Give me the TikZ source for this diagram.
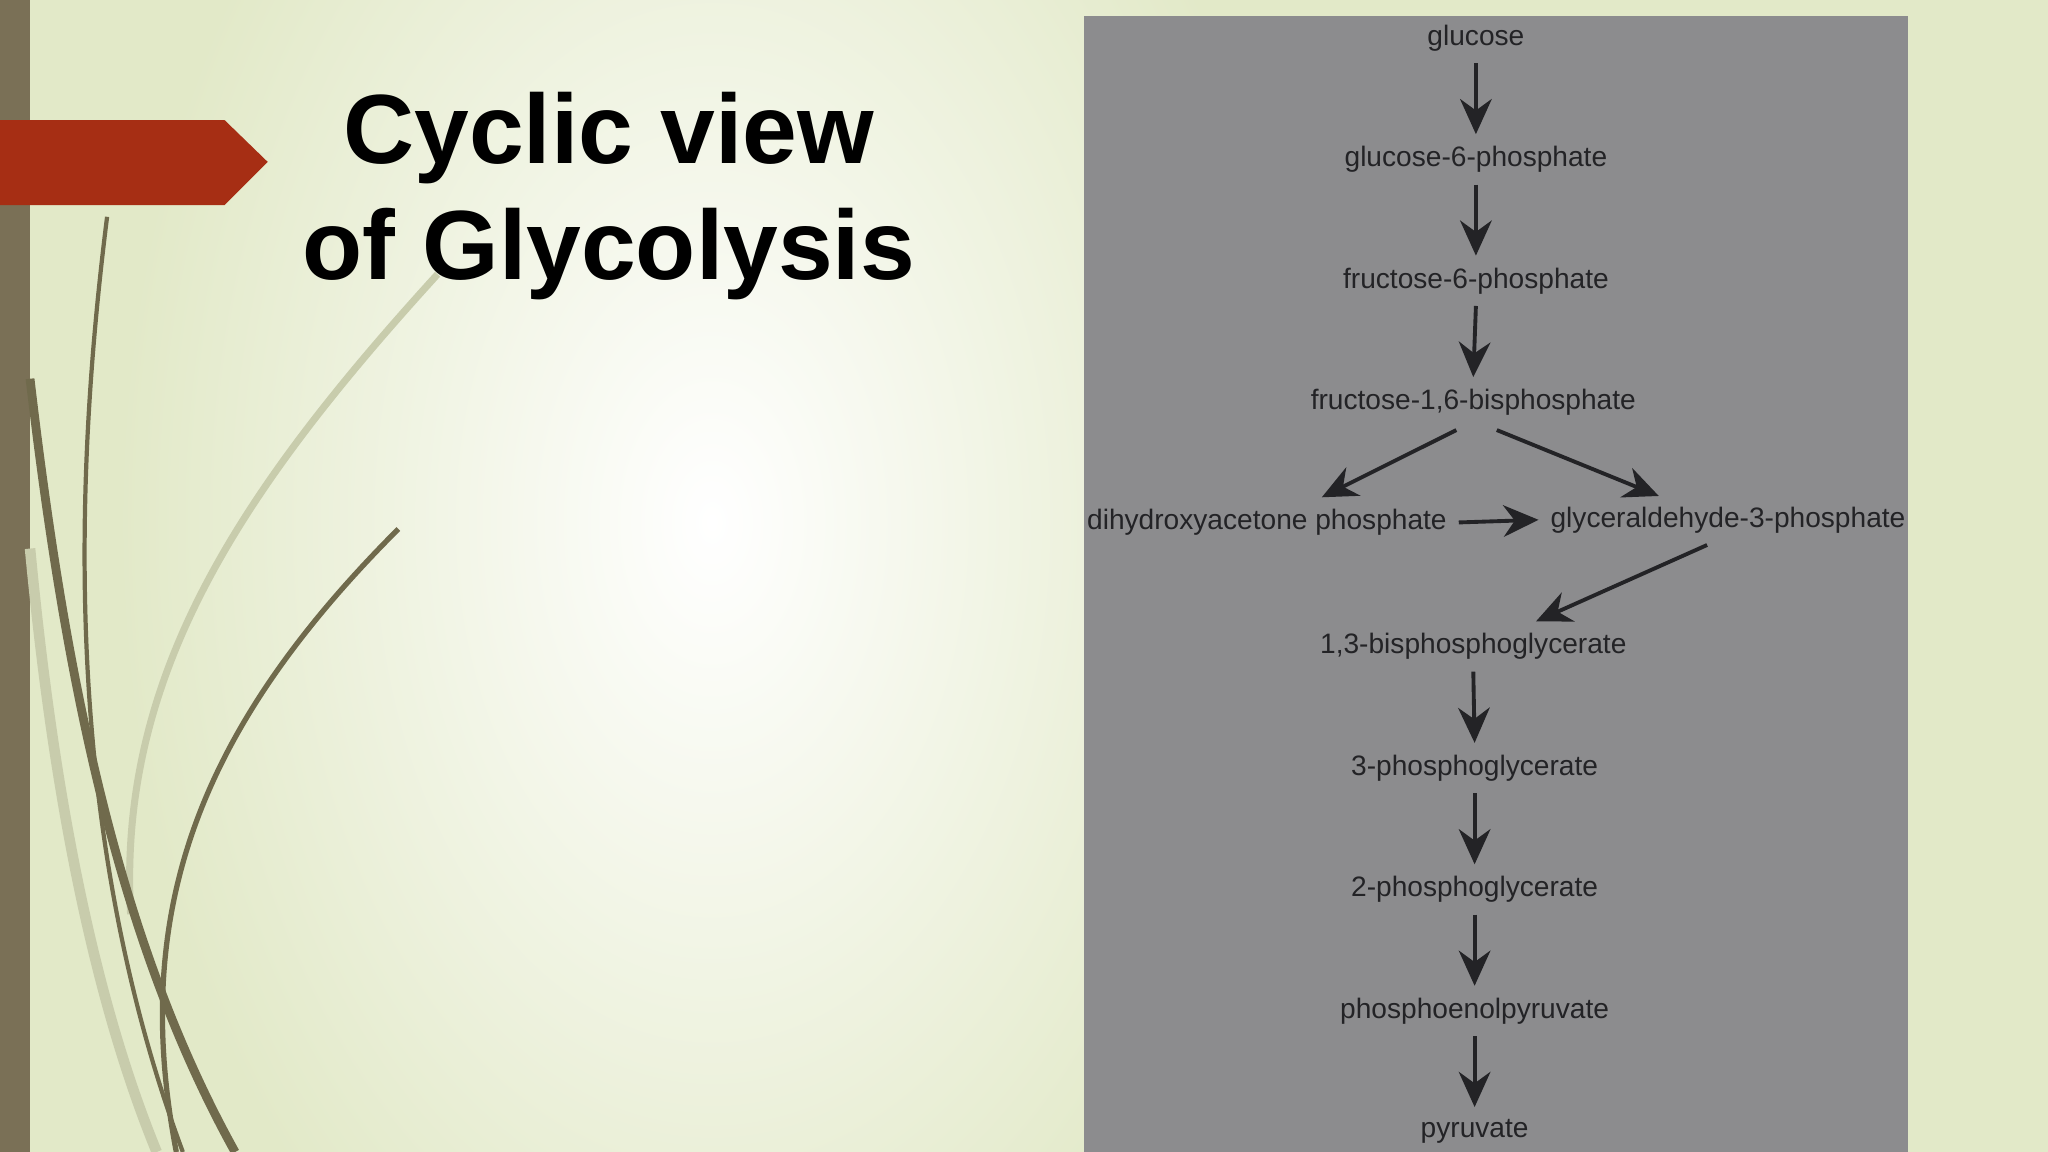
\documentclass[tikz,border=0pt]{standalone}
\usepackage{fontspec}
\setmainfont{Liberation Sans}
\usetikzlibrary{positioning,calc,arrows.meta}
\definecolor{bgpale}{RGB}{226,233,200}
\definecolor{leftbar}{RGB}{122,112,86}
\definecolor{tagred}{RGB}{166,46,20}
\definecolor{panel}{RGB}{140,140,142}
\definecolor{grass}{RGB}{112,106,76}
\definecolor{grasslight}{RGB}{200,204,172}
\definecolor{ink}{RGB}{35,35,38}
\tikzset{
  compound/.style={inner sep=1pt,font=\fontsize{8}{9}\selectfont,text=ink},
  step arrow/.style={draw=ink,line width=1.1pt,-{Stealth[length=10pt,width=9pt]}}
}
\begin{document}
\begin{tikzpicture}[x=0.013061cm,y=-0.013061cm]
\useasboundingbox (0,0) rectangle (1568,882);
% background
\fill[bgpale] (0,0) rectangle (1568,882);
\shade[inner color=white,outer color=bgpale] (90,-300) rectangle (1000,1100);
\fill[leftbar] (0,0) rectangle (23,882);
\fill[tagred] (0,92) -- (172,92) -- (205,124) -- (172,157) -- (0,157) -- cycle;
% grass lines
\draw[grasslight,line width=2pt] (335,210) .. controls (180,380) and (90,520) .. (100,700);
\draw[grasslight,line width=3pt] (23,420) .. controls (40,600) and (70,760) .. (120,882);
\draw[grass,line width=1.2pt] (82,166) .. controls (55,380) and (50,640) .. (140,882);
\draw[grass,line width=2.5pt] (23,290) .. controls (50,520) and (90,720) .. (180,882);
\draw[grass,line width=1.5pt] (305,405) .. controls (150,560) and (100,700) .. (135,882);
% title
\node[font=\fontsize{28}{33}\selectfont\bfseries,align=center] (title) at (466,150)
  {Cyclic view\\ of Glycolysis};
% pathway panel
\fill[panel] (830,12) rectangle (1461,882);
\node[compound] (glc)   at (1130,29)  {glucose};
\node[compound] (g6p)   at (1130,122) {glucose-6-phosphate};
\node[compound] (f6p)   at (1130,215) {fructose-6-phosphate};
\node[compound] (fbp)   at (1128,308) {fructose-1,6-bisphosphate};
\node[compound] (dhap)  at (970,400)  {dihydroxyacetone phosphate};
\node[compound] (gap)   at (1323,398) {glyceraldehyde-3-phosphate};
\node[compound] (bpg)   at (1128,495) {1,3-bisphosphoglycerate};
\node[compound] (pg3)   at (1129,588) {3-phosphoglycerate};
\node[compound] (pg2)   at (1129,681) {2-phosphoglycerate};
\node[compound] (pep)   at (1129,774) {phosphoenolpyruvate};
\node[compound] (pyr)   at (1129,866) {pyruvate};
\foreach \a/\b in {glc/g6p,g6p/f6p,f6p/fbp,bpg/pg3,pg3/pg2,pg2/pep,pep/pyr}
  \draw[step arrow] (\a.south) ++(0,6) -- ($(\b.north)+(0,-6)$);
\draw[step arrow] ($(fbp.south)+(-13,8)$) -- ($(dhap.north)+(42,-6)$);
\draw[step arrow] ($(fbp.south)+(18,8)$) -- ($(gap.north)+(-53,-5)$);
\draw[step arrow] ($(dhap.east)+(6,0)$) -- ($(gap.west)+(-6,0)$);
\draw[step arrow] ($(gap.south)+(-16,6)$) -- ($(bpg.north)+(48,-6)$);
\end{tikzpicture}
\end{document}
